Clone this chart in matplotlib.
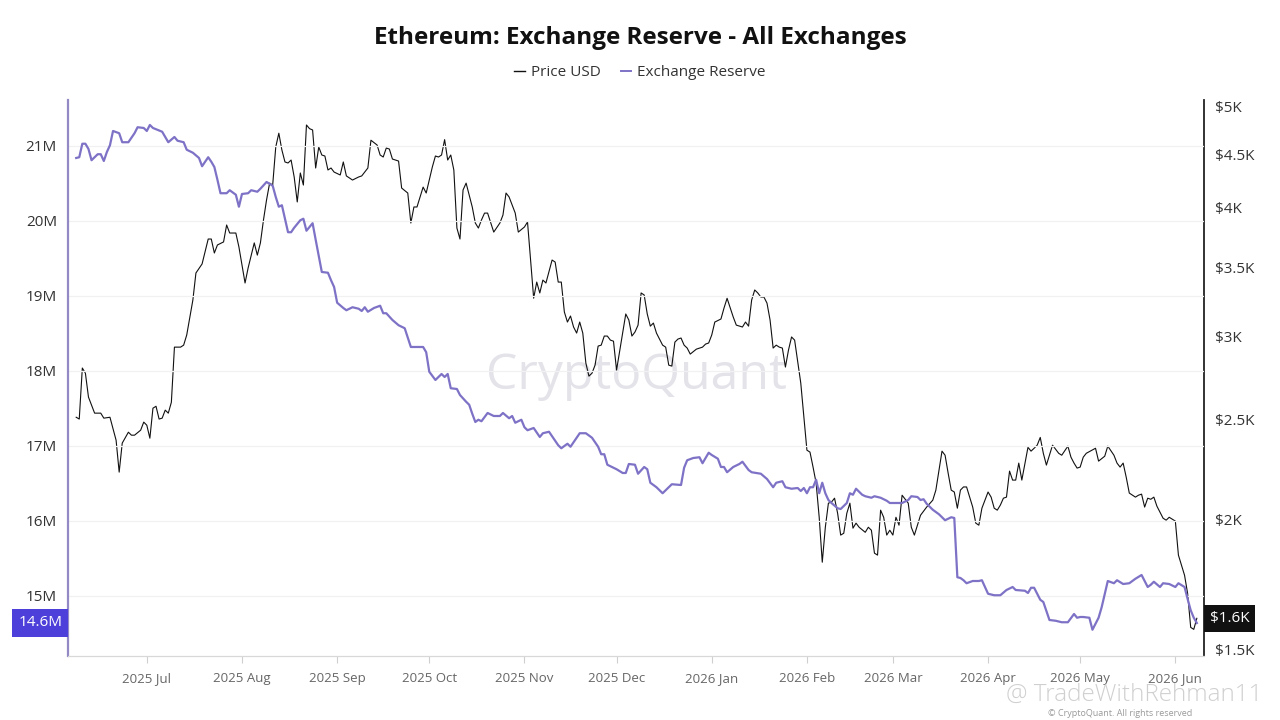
import matplotlib
matplotlib.use('Agg')
import matplotlib.pyplot as plt
import matplotlib.transforms as mtransforms
from matplotlib.ticker import FixedLocator, NullLocator, NullFormatter, FixedFormatter
from matplotlib.lines import Line2D
import pandas as pd

plt.rcParams['font.family'] = ['Open Sans', 'DejaVu Sans']

# ---------------- data ----------------
price_dates = [
    "2025-06-08","2025-06-09","2025-06-10","2025-06-11","2025-06-12","2025-06-14","2025-06-16","2025-06-17",
    "2025-06-19","2025-06-21","2025-06-22","2025-06-23","2025-06-25","2025-06-26","2025-06-27","2025-06-29",
    "2025-06-30","2025-07-01","2025-07-02","2025-07-03","2025-07-04","2025-07-05","2025-07-06","2025-07-07",
    "2025-07-08","2025-07-09","2025-07-10","2025-07-12","2025-07-13","2025-07-14","2025-07-16","2025-07-17",
    "2025-07-19","2025-07-21","2025-07-22","2025-07-23","2025-07-24","2025-07-26","2025-07-27","2025-07-28",
    "2025-07-30","2025-07-31","2025-08-02","2025-08-03","2025-08-05","2025-08-06","2025-08-07","2025-08-08",
    "2025-08-09","2025-08-10","2025-08-11","2025-08-12","2025-08-13","2025-08-14","2025-08-15","2025-08-16",
    "2025-08-17","2025-08-18","2025-08-19","2025-08-20","2025-08-21","2025-08-22","2025-08-23","2025-08-24",
    "2025-08-25","2025-08-26","2025-08-27","2025-08-28","2025-08-29","2025-08-30","2025-08-31","2025-09-02",
    "2025-09-03","2025-09-04","2025-09-06","2025-09-08","2025-09-09","2025-09-11","2025-09-12","2025-09-14",
    "2025-09-15","2025-09-16","2025-09-17","2025-09-18","2025-09-19","2025-09-21","2025-09-22","2025-09-24",
    "2025-09-25","2025-09-26","2025-09-27","2025-09-29","2025-09-30","2025-10-02","2025-10-03","2025-10-04",
    "2025-10-05","2025-10-06","2025-10-07","2025-10-08","2025-10-09","2025-10-10","2025-10-11","2025-10-12",
    "2025-10-13","2025-10-15","2025-10-16","2025-10-17","2025-10-18","2025-10-19","2025-10-20","2025-10-22",
    "2025-10-24","2025-10-25","2025-10-26","2025-10-27","2025-10-29","2025-10-30","2025-11-01","2025-11-02",
    "2025-11-04","2025-11-05","2025-11-06","2025-11-07","2025-11-08","2025-11-10","2025-11-11","2025-11-12",
    "2025-11-13","2025-11-14","2025-11-15","2025-11-16","2025-11-17","2025-11-18","2025-11-19","2025-11-20",
    "2025-11-21","2025-11-22","2025-11-23","2025-11-24","2025-11-25","2025-11-26","2025-11-27","2025-11-28",
    "2025-11-29","2025-11-30","2025-12-01","2025-12-03","2025-12-04","2025-12-05","2025-12-06","2025-12-07",
    "2025-12-08","2025-12-09","2025-12-10","2025-12-11","2025-12-12","2025-12-13","2025-12-14","2025-12-16",
    "2025-12-17","2025-12-18","2025-12-19","2025-12-20","2025-12-21","2025-12-22","2025-12-23","2025-12-24",
    "2025-12-25","2025-12-27","2025-12-29","2025-12-30","2025-12-31","2026-01-01","2026-01-02","2026-01-04",
    "2026-01-05","2026-01-06","2026-01-08","2026-01-09","2026-01-11","2026-01-12","2026-01-13","2026-01-14",
    "2026-01-15","2026-01-16","2026-01-17","2026-01-18","2026-01-19","2026-01-20","2026-01-21","2026-01-22",
    "2026-01-23","2026-01-24","2026-01-25","2026-01-26","2026-01-27","2026-01-28","2026-01-30","2026-01-31",
    "2026-02-01","2026-02-02","2026-02-03","2026-02-04","2026-02-05","2026-02-06","2026-02-07","2026-02-08",
    "2026-02-09","2026-02-10","2026-02-11","2026-02-12","2026-02-13","2026-02-14","2026-02-15","2026-02-16",
    "2026-02-17","2026-02-18","2026-02-20","2026-02-21","2026-02-22","2026-02-23","2026-02-24","2026-02-25",
    "2026-02-26","2026-02-27","2026-02-28","2026-03-01","2026-03-02","2026-03-03","2026-03-04","2026-03-06",
    "2026-03-07","2026-03-08","2026-03-09","2026-03-10","2026-03-12","2026-03-14","2026-03-15","2026-03-17",
    "2026-03-18","2026-03-19","2026-03-20","2026-03-21","2026-03-22","2026-03-23","2026-03-24","2026-03-25",
    "2026-03-27","2026-03-28","2026-03-29","2026-03-30","2026-04-01","2026-04-02","2026-04-03","2026-04-04",
    "2026-04-05","2026-04-06","2026-04-07","2026-04-08","2026-04-09","2026-04-10","2026-04-11","2026-04-12",
    "2026-04-14","2026-04-15","2026-04-16","2026-04-17","2026-04-18","2026-04-19","2026-04-20","2026-04-21",
    "2026-04-22","2026-04-24","2026-04-25","2026-04-27","2026-04-28","2026-04-29","2026-04-30","2026-05-01",
    "2026-05-02","2026-05-03","2026-05-06","2026-05-07","2026-05-09","2026-05-10","2026-05-12","2026-05-13",
    "2026-05-14","2026-05-15","2026-05-16","2026-05-17","2026-05-19","2026-05-20","2026-05-21","2026-05-22",
    "2026-05-23","2026-05-24","2026-05-25","2026-05-26","2026-05-28","2026-05-29","2026-05-30","2026-06-01",
    "2026-06-02","2026-06-04","2026-06-05","2026-06-06","2026-06-07","2026-06-08",
]
price_usd = [
    2510,2500,2800,2768,2625,2533,2533,2505,
    2510,2385,2222,2370,2428,2412,2412,2439,
    2483,2466,2396,2561,2572,2500,2505,2550,
    2533,2595,2933,2933,2946,3013,3256,3458,
    3528,3729,3729,3615,3680,3705,3847,3779,
    3779,3664,3382,3497,3697,3598,3697,3890,
    4067,4222,4204,4575,4717,4544,4425,4415,
    4444,4280,4049,4318,4204,4804,4765,4751,
    4366,4575,4494,4484,4347,4366,4327,4299,
    4425,4290,4251,4280,4290,4366,4644,4595,
    4494,4474,4564,4554,4454,4434,4176,4130,
    3864,4004,4004,4185,4130,4376,4484,4474,
    4494,4650,4444,4494,4347,3821,3729,4158,
    4222,4004,3864,3821,3890,3950,3950,3787,
    3864,3933,4130,4094,3950,3787,3830,3873,
    3270,3389,3308,3404,3382,3559,3543,3389,
    3389,3171,3101,3143,3067,3026,3101,3026,
    2831,2750,2768,2818,2940,2946,3006,3006,
    2979,2972,2787,3026,3157,3115,3006,3033,
    3080,3308,3293,3157,3073,3094,3026,2946,
    2933,2818,2812,2966,2986,2993,2946,2927,
    2888,2920,2933,2953,2960,3013,3101,3122,
    3199,3269,3136,3080,3067,3101,3073,3256,
    3330,3308,3278,3278,3234,3115,2927,2946,
    2933,2927,2806,2914,3000,2979,2708,2511,
    2333,2323,2247,2169,2010,1819,1966,2074,
    2079,2097,2028,1932,1940,2028,2074,1962,
    1984,1966,1944,1966,1953,1856,1848,2042,
    2010,1932,1953,1932,2010,1975,2111,2074,
    1966,1932,1975,2019,2056,2088,2135,2328,
    2307,2217,2135,2126,2051,2135,2150,2150,
    2056,1984,1975,2051,2126,2102,2051,2042,
    2065,2097,2102,2227,2183,2183,2267,2183,
    2348,2328,2343,2359,2400,2317,2257,2307,
    2359,2317,2307,2354,2297,2267,2242,2247,
    2297,2317,2343,2277,2302,2354,2307,2267,
    2247,2267,2197,2121,2102,2111,2116,2056,
    2097,2092,2102,2060,2006,1997,2010,1993,
    1848,1767,1697,1574,1567,1606,
]

reserve_dates = [
    "2025-06-08","2025-06-09","2025-06-10","2025-06-11","2025-06-12","2025-06-13","2025-06-15","2025-06-16",
    "2025-06-17","2025-06-18","2025-06-19","2025-06-20","2025-06-22","2025-06-23","2025-06-25","2025-06-27",
    "2025-06-28","2025-06-30","2025-07-01","2025-07-02","2025-07-03","2025-07-06","2025-07-08","2025-07-10",
    "2025-07-11","2025-07-13","2025-07-14","2025-07-16","2025-07-18","2025-07-19","2025-07-21","2025-07-22",
    "2025-07-23","2025-07-24","2025-07-25","2025-07-27","2025-07-28","2025-07-30","2025-07-31","2025-08-01",
    "2025-08-03","2025-08-04","2025-08-06","2025-08-07","2025-08-09","2025-08-11","2025-08-12","2025-08-13",
    "2025-08-14","2025-08-16","2025-08-17","2025-08-18","2025-08-20","2025-08-21","2025-08-22","2025-08-24",
    "2025-08-25","2025-08-27","2025-08-29","2025-08-30","2025-08-31","2025-09-01","2025-09-03","2025-09-04",
    "2025-09-06","2025-09-08","2025-09-09","2025-09-10","2025-09-11","2025-09-13","2025-09-15","2025-09-16",
    "2025-09-17","2025-09-19","2025-09-21","2025-09-23","2025-09-25","2025-09-29","2025-09-30","2025-10-01",
    "2025-10-03","2025-10-05","2025-10-06","2025-10-07","2025-10-08","2025-10-10","2025-10-11","2025-10-13",
    "2025-10-14","2025-10-15","2025-10-16","2025-10-17","2025-10-18","2025-10-20","2025-10-22","2025-10-24",
    "2025-10-25","2025-10-27","2025-10-28","2025-10-29","2025-10-31","2025-11-01","2025-11-02","2025-11-04",
    "2025-11-06","2025-11-07","2025-11-09","2025-11-10","2025-11-12","2025-11-13","2025-11-15","2025-11-16",
    "2025-11-17","2025-11-19","2025-11-21","2025-11-23","2025-11-25","2025-11-26","2025-11-27","2025-11-28",
    "2025-12-01","2025-12-03","2025-12-04","2025-12-05","2025-12-07","2025-12-08","2025-12-10","2025-12-11",
    "2025-12-12","2025-12-14","2025-12-16","2025-12-18","2025-12-19","2025-12-22","2025-12-23","2025-12-24",
    "2025-12-26","2025-12-28","2025-12-29","2025-12-31","2026-01-01","2026-01-03","2026-01-04","2026-01-05",
    "2026-01-06","2026-01-08","2026-01-10","2026-01-11","2026-01-13","2026-01-14","2026-01-17","2026-01-19",
    "2026-01-21","2026-01-22","2026-01-24","2026-01-25","2026-01-27","2026-01-29","2026-01-30","2026-01-31",
    "2026-02-01","2026-02-02","2026-02-03","2026-02-04","2026-02-05","2026-02-06","2026-02-07","2026-02-08",
    "2026-02-09","2026-02-11","2026-02-12","2026-02-13","2026-02-14","2026-02-15","2026-02-16","2026-02-17",
    "2026-02-19","2026-02-20","2026-02-22","2026-02-23","2026-02-25","2026-02-27","2026-02-28","2026-03-02",
    "2026-03-04","2026-03-06","2026-03-07","2026-03-09","2026-03-10","2026-03-11","2026-03-12","2026-03-14",
    "2026-03-16","2026-03-18","2026-03-20","2026-03-21","2026-03-22","2026-03-23","2026-03-24","2026-03-25",
    "2026-03-27","2026-03-29","2026-03-30","2026-04-01","2026-04-03","2026-04-05","2026-04-07","2026-04-09",
    "2026-04-10","2026-04-13","2026-04-14","2026-04-15","2026-04-16","2026-04-18","2026-04-19","2026-04-21",
    "2026-04-23","2026-04-25","2026-04-27","2026-04-29","2026-04-30","2026-05-01","2026-05-02","2026-05-04",
    "2026-05-05","2026-05-07","2026-05-08","2026-05-10","2026-05-12","2026-05-13","2026-05-15","2026-05-17",
    "2026-05-19","2026-05-21","2026-05-23","2026-05-24","2026-05-25","2026-05-27","2026-05-28","2026-05-30",
    "2026-06-01","2026-06-02","2026-06-04","2026-06-05","2026-06-06","2026-06-07","2026-06-08",
]
reserve_m = [
    20.84,20.85,21.03,21.03,20.96,20.81,20.89,20.89,
    20.80,20.92,21.01,21.20,21.17,21.05,21.05,21.17,
    21.25,21.24,21.20,21.28,21.24,21.19,21.05,21.12,
    21.07,21.05,20.95,20.91,20.84,20.73,20.85,20.79,
    20.72,20.55,20.37,20.37,20.41,20.35,20.19,20.36,
    20.37,20.41,20.39,20.43,20.52,20.47,20.32,20.19,
    20.21,19.85,19.85,19.91,20.01,20.03,19.87,19.97,
    19.75,19.32,19.31,19.21,19.12,18.91,18.84,18.81,
    18.85,18.83,18.80,18.85,18.79,18.84,18.87,18.77,
    18.77,18.68,18.61,18.57,18.32,18.32,18.25,17.99,
    17.88,17.96,17.92,17.96,17.77,17.76,17.68,17.59,
    17.55,17.43,17.32,17.35,17.33,17.44,17.40,17.40,
    17.44,17.37,17.40,17.31,17.35,17.25,17.21,17.24,
    17.12,17.17,17.19,17.13,17.01,16.97,17.03,16.99,
    17.05,17.17,17.17,17.11,16.99,16.89,16.89,16.75,
    16.69,16.64,16.64,16.76,16.75,16.63,16.72,16.69,
    16.51,16.45,16.37,16.45,16.49,16.48,16.71,16.81,
    16.84,16.85,16.77,16.91,16.88,16.83,16.72,16.72,
    16.65,16.72,16.76,16.79,16.68,16.65,16.63,16.56,
    16.45,16.51,16.53,16.45,16.43,16.44,16.40,16.44,
    16.37,16.45,16.45,16.55,16.37,16.51,16.37,16.28,
    16.24,16.17,16.16,16.20,16.24,16.37,16.35,16.43,
    16.35,16.33,16.31,16.33,16.31,16.27,16.24,16.24,
    16.24,16.28,16.33,16.32,16.28,16.29,16.23,16.15,
    16.09,16.01,16.05,16.04,15.25,15.24,15.21,15.17,
    15.20,15.20,15.21,15.03,15.01,15.01,15.08,15.12,
    15.08,15.07,15.04,15.11,15.11,14.95,14.92,14.68,
    14.67,14.65,14.65,14.76,14.71,14.72,14.72,14.71,
    14.55,14.71,14.85,15.20,15.17,15.21,15.16,15.17,
    15.23,15.28,15.12,15.15,15.19,15.12,15.17,15.16,
    15.12,15.17,15.12,14.96,14.81,14.71,14.64,
]

title = "Ethereum: Exchange Reserve - All Exchanges"
legend_labels = ["Price USD", "Exchange Reserve"]

left_ticks = [15, 16, 17, 18, 19, 20, 21]
left_labels = ["15M", "16M", "17M", "18M", "19M", "20M", "21M"]
right_ticks = [1500, 2000, 2500, 3000, 3500, 4000, 4500, 5000]
right_labels = ["$1.5K", "$2K", "$2.5K", "$3K", "$3.5K", "$4K", "$4.5K", "$5K"]
month_ticks = ["2025-07-01", "2025-08-01", "2025-09-01", "2025-10-01", "2025-11-01", "2025-12-01",
               "2026-01-01", "2026-02-01", "2026-03-01", "2026-04-01", "2026-05-01", "2026-06-01"]
month_labels = ["2025 Jul", "2025 Aug", "2025 Sep", "2025 Oct", "2025 Nov", "2025 Dec",
                "2026 Jan", "2026 Feb", "2026 Mar", "2026 Apr", "2026 May", "2026 Jun"]

# ---------------- styling ----------------
PURPLE = "#7d72c6"
PURPLE_SPINE = "#9389c4"
BADGE_PURPLE = "#4d3fd9"

W, H = 1280, 720
fig = plt.figure(figsize=(W / 100, H / 100), dpi=100)
fig.patch.set_facecolor("white")
ax = fig.add_axes([68 / W, 1 - 656 / H, (1204 - 68) / W, (656 - 100) / H])
ax2 = ax.twinx()

pd_price = pd.to_datetime(price_dates)
pd_res = pd.to_datetime(reserve_dates)

ax2.plot(pd_price, price_usd, color="#111111", lw=0.8, zorder=3)
ax.plot(pd_res, reserve_m, color=PURPLE, lw=1.6, zorder=3)

# reserve axis drawn above price axis
ax.set_zorder(ax2.get_zorder() + 1)
ax.patch.set_visible(False)
ax2.patch.set_facecolor("white")

ax.set_xlim(pd.Timestamp("2025-06-05 08:00"), pd.Timestamp("2026-06-10 08:00"))
ax.set_ylim(14.2, 21.613)
ax2.set_yscale("log")
ax2.set_ylim(1477, 5078)

# left axis
ax.yaxis.set_major_locator(FixedLocator(left_ticks))
ax.yaxis.set_major_formatter(FixedFormatter(left_labels))
ax.tick_params(axis="y", length=0, pad=8, labelsize=11, labelcolor="#333333")
ax.yaxis.grid(True, color="#f1f1f1", lw=0.9)

# right axis
ax2.yaxis.set_major_locator(FixedLocator(right_ticks))
ax2.yaxis.set_major_formatter(FixedFormatter(right_labels))
ax2.yaxis.set_minor_locator(NullLocator())
ax2.yaxis.set_minor_formatter(NullFormatter())
ax2.tick_params(axis="y", length=0, pad=8, labelsize=11, labelcolor="#333333")

# x axis
ax.set_xticks(pd.to_datetime(month_ticks))
ax.set_xticklabels(month_labels)
ax.tick_params(axis="x", length=5, width=0.8, color="#cfcfcf", pad=13.5, labelsize=9.5, labelcolor="#666666")
for lbl in ax.get_xticklabels():
    lbl.set_verticalalignment("baseline")

for a in (ax, ax2):
    a.spines["top"].set_visible(False)
ax.spines["right"].set_visible(False)
ax2.spines["left"].set_visible(False)
ax2.spines["bottom"].set_visible(False)
ax.spines["left"].set_color(PURPLE_SPINE)
ax.spines["left"].set_linewidth(1.6)
ax2.spines["right"].set_color("#222222")
ax2.spines["right"].set_linewidth(1.3)
ax.spines["bottom"].set_color("#d8d8d8")
ax.spines["bottom"].set_linewidth(0.9)

# watermark
ax2.text(0.5, 0.504, "CryptoQuant", transform=ax2.transAxes, ha="center", va="center",
         fontsize=36, color="#e3e3e9", fontweight="medium", zorder=1)

# value badges
tl = mtransforms.blended_transform_factory(ax.transAxes, ax.transData)
ax.text(-0.005, reserve_m[-1], f"{reserve_m[-1]:.1f}M", transform=tl, ha="right", va="center",
        fontsize=11, color="white",
        bbox=dict(boxstyle="square,pad=0.4", fc=BADGE_PURPLE, ec="none"), zorder=6, clip_on=False)
tr = mtransforms.blended_transform_factory(ax2.transAxes, ax2.transData)
ax2.text(1.005, price_usd[-1], f"${price_usd[-1] / 1000:.1f}K", transform=tr, ha="left", va="center",
         fontsize=11, color="white",
         bbox=dict(boxstyle="square,pad=0.4", fc="#111111", ec="none"), zorder=6, clip_on=False)

# title and legend
fig.text(0.5, 1 - 38 / H, title, ha="center", va="center", fontsize=17.5, fontweight="bold", color="#111111")
handles = [Line2D([0], [0], color="#111111", lw=1.0), Line2D([0], [0], color=PURPLE, lw=1.4)]
fig.legend(handles, legend_labels, loc="center", bbox_to_anchor=(0.5, 1 - 73 / H), ncol=2, frameon=False,
           fontsize=11, handlelength=0.7, handletextpad=0.4, columnspacing=1.3, labelcolor="#333333")

# footer texts
fig.text(1006 / W, 1 - 695 / H, "@ TradeWithRehman11", ha="left", va="center",
         fontsize=17.5, color="#c4c4c4", alpha=0.8, fontweight="light")
fig.text(1192 / W, 1 - 714 / H, "© CryptoQuant. All rights reserved", ha="right", va="center",
         fontsize=6.5, color="#9a9a9a")

fig.savefig("out.png", dpi=100, facecolor="white")
